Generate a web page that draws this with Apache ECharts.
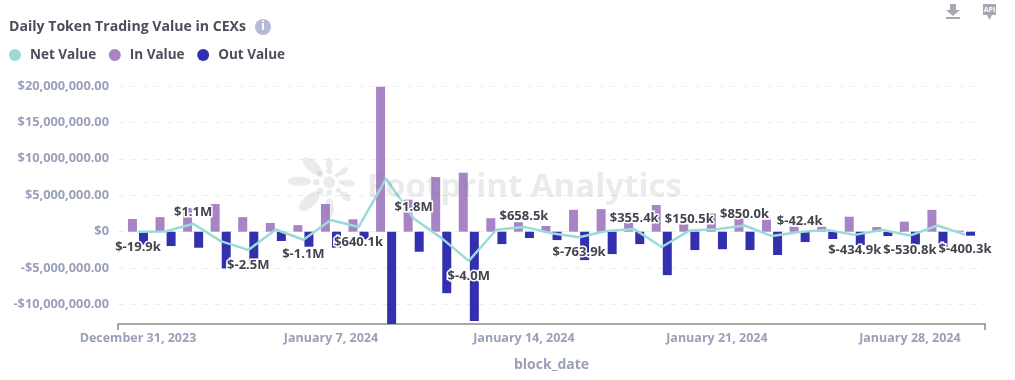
<!DOCTYPE html>
<html>
<head>
<meta charset="utf-8">
<style>
  html, body { margin: 0; padding: 0; background: #fff; }
  #chart { width: 1015px; height: 380px; }
</style>
<script src="https://cdn.jsdelivr.net/npm/echarts@6/dist/echarts.min.js"></script>
</head>
<body>
<div id="chart"></div>
<script>
  var dates = ['2023-12-31', '2024-01-01', '2024-01-02', '2024-01-03', '2024-01-04', '2024-01-05', '2024-01-06',
    '2024-01-07', '2024-01-08', '2024-01-09', '2024-01-10', '2024-01-11', '2024-01-12', '2024-01-13',
    '2024-01-14', '2024-01-15', '2024-01-16', '2024-01-17', '2024-01-18', '2024-01-19', '2024-01-20',
    '2024-01-21', '2024-01-22', '2024-01-23', '2024-01-24', '2024-01-25', '2024-01-26', '2024-01-27',
    '2024-01-28', '2024-01-29', '2024-01-30']
  var netValue = [-19900, 30000, 1100000, -1300000, -2500000, 300000, -1100000,
    1600000, 640100, 7300000, 1800000, -850000, -4000000, 270000,
    658500, -200000, -763900, 100000, 355400, -2100000, 150500,
    350000, 850000, -600000, -42400, 250000, -434900, 250000,
    -530800, 850000, -400300]
  var inValue = [1740000, 2000000, 3250000, 3800000, 2000000, 1200000, 900000,
    3800000, 1700000, 19900000, 4400000, 7500000, 8100000, 1850000,
    1300000, 780000, 3000000, 3100000, 1200000, 3670000, 1000000,
    2500000, 1790000, 1650000, 690000, 690000, 2060000, 640000,
    1370000, 3000000, 150000]
  var outValue = [-1760000, -1970000, -2200000, -5050000, -4500000, -1280000, -2060000,
    -2200000, -1060000, -12700000, -2750000, -8440000, -12250000, -1700000,
    -870000, -1150000, -3900000, -3070000, -1700000, -5960000, -2520000,
    -2400000, -2520000, -3200000, -1420000, -1000000, -1830000, -600000,
    -1740000, -2060000, -550000]
  var yTicks = [-10000000, -5000000, 0, 5000000, 10000000, 15000000, 20000000]
  var xTicks = ['2023-12-31', '2024-01-07', '2024-01-14', '2024-01-21', '2024-01-28']
  var monthNames = ['January', 'February', 'March', 'April', 'May', 'June', 'July', 'August', 'September', 'October', 'November', 'December']

  // the x axis runs on day numbers so the end ticks can sit in the padding past the first and last day
  var xMin = -0.725
  var xMax = dates.length - 1 + 0.725

  function compact (v) {
    var a = Math.abs(v)
    var s = v < 0 ? '-' : ''
    if (a >= 1000000) return '$' + s + (a / 1000000).toFixed(1) + 'M'
    return '$' + s + (a / 1000).toFixed(1) + 'k'
  }
  function money (v) {
    var a = Math.abs(v).toLocaleString('en-US', {minimumFractionDigits: 2, maximumFractionDigits: 2})
    if (v === 0) return '$0'
    return (v < 0 ? '-$' : '$') + a
  }
  function longDate (s) {
    var d = new Date(s)
    return monthNames[d.getUTCMonth()] + ' ' + d.getUTCDate() + ', ' + d.getUTCFullYear()
  }
  function pairs (arr) {
    return arr.map(function (v, i) { return [i, v] })
  }

  // every second point carries a label, mostly above for gains and below for losses
  var netData = netValue.map(function (v, i) {
    var below = v < 0
    if (i === 8) below = true
    if (i === 24) below = false
    return {
      value: [i, v],
      label: {show: i % 2 === 0, position: below ? 'bottom' : 'top', distance: below ? 8 : 4}
    }
  })

  var FONT = '"Open Sans", sans-serif'
  var WATERMARK = 'rgba(120,130,140,0.16)'
  var LOGO_X = 329.3
  var LOGO_Y = 182.3

  // footprint logo: [dx, dy, half length, half width], the petals all point away from the middle
  var logoPetals = [[-30, -1, 11.7, 4.5], [-17, -16, 12, 5.5], [0, -19, 5.5, 3.5], [14, -11, 5.5, 3],
    [19, 1, 6, 3.5], [16, 14, 6.5, 3.5], [0, 26, 10, 4.5], [-20, 19, 13, 6]]
  var logoDots = [[-13, 0, 3.2], [-9, 9, 3.5], [0, -11, 3], [-9, -8, 3],
    [8, -7, 2.5], [12, 0, 2.5], [9, 8, 2.5], [0, 10, 3]]

  var logo = logoPetals.map(function (p) {
    return {
      type: 'ellipse',
      x: LOGO_X + p[0],
      y: LOGO_Y + p[1],
      rotation: -Math.atan2(p[1], p[0]),
      shape: {cx: 0, cy: 0, rx: p[2], ry: p[3]},
      style: {fill: WATERMARK},
      z: 20,
      silent: true
    }
  }).concat(logoDots.map(function (p) {
    return {
      type: 'circle',
      x: LOGO_X + p[0],
      y: LOGO_Y + p[1],
      shape: {r: p[2]},
      style: {fill: WATERMARK},
      z: 20,
      silent: true
    }
  }))

  var chart = echarts.init(document.getElementById('chart'), null, {renderer: 'canvas'})
  chart.setOption({
    animation: false,
    textStyle: {fontFamily: FONT},
    title: {
      text: 'Daily Token Trading Value in CEXs',
      left: 9,
      top: 20,
      padding: 0,
      textStyle: {fontSize: 14.1, fontWeight: 700, color: '#4d4d5c', fontFamily: FONT}
    },
    legend: {
      left: 9,
      top: 48,
      padding: 0,
      icon: 'circle',
      itemWidth: 12,
      itemHeight: 12,
      itemGap: 12.6,
      textStyle: {fontSize: 13.5, fontWeight: 700, color: '#4d4d5c', fontFamily: FONT, padding: [0, 0, 0, 4]},
      data: ['Net Value', 'In Value', 'Out Value']
    },
    grid: {left: 118, right: 30, top: 86, bottom: 56, containLabel: false},
    xAxis: {
      type: 'value',
      min: xMin,
      max: xMax,
      name: 'block_date',
      nameLocation: 'middle',
      nameGap: 34,
      nameTextStyle: {fontSize: 14, fontWeight: 700, color: '#9a9fba', fontFamily: FONT},
      axisLine: {onZero: false, lineStyle: {color: '#8c8c8c', width: 1.5}},
      axisTick: {show: true, length: 6, customValues: [xMin, xMax], lineStyle: {color: '#8c8c8c', width: 1.5}},
      axisLabel: {
        customValues: xTicks.map(function (d) { return dates.indexOf(d) }),
        margin: 8,
        fontSize: 12.5,
        fontWeight: 700,
        color: '#9a9fba',
        fontFamily: FONT,
        hideOverlap: false,
        formatter: function (v) { return longDate(dates[v]) }
      },
      splitLine: {show: false}
    },
    yAxis: {
      type: 'value',
      min: -12670000,
      max: 20000000,
      axisLine: {show: false},
      axisTick: {show: false, customValues: yTicks},
      axisLabel: {
        customValues: yTicks,
        margin: 9,
        fontSize: 12.8,
        fontWeight: 700,
        color: '#9a9fba',
        fontFamily: FONT,
        formatter: function (v) { return money(v) }
      },
      splitLine: {show: true, lineStyle: {type: [6, 6], color: '#eeeeee', width: 1}}
    },
    series: [{
      name: 'Net Value',
      type: 'line',
      symbol: 'circle',
      symbolSize: 1,
      showSymbol: true,
      showAllSymbol: true,
      z: 5,
      lineStyle: {width: 2.5, color: '#99dbd9'},
      itemStyle: {color: '#99dbd9'},
      label: {
        fontSize: 13,
        fontWeight: 700,
        color: '#44444f',
        fontFamily: FONT,
        textBorderColor: '#fff',
        textBorderWidth: 3,
        formatter: function (p) { return compact(p.value[1]) }
      },
      labelLayout: {hideOverlap: false},
      data: netData
    }, {
      name: 'In Value',
      type: 'bar',
      barWidth: 9,
      barGap: '23%',
      itemStyle: {color: '#a984c4'},
      data: pairs(inValue)
    }, {
      name: 'Out Value',
      type: 'bar',
      barWidth: 9,
      barGap: '23%',
      itemStyle: {color: '#3330b0'},
      data: pairs(outValue)
    }],
    graphic: logo.concat([{
      type: 'circle',
      x: LOGO_X,
      y: LOGO_Y,
      shape: {r: 6},
      style: {fill: WATERMARK},
      z: 20,
      silent: true
    }, {
      type: 'text',
      x: 367,
      y: 188,
      z: 20,
      silent: true,
      style: {
        text: 'Footprint Analytics',
        fill: WATERMARK,
        fontSize: 33,
        fontWeight: 700,
        fontFamily: FONT,
        verticalAlign: 'middle'
      }
    }, {
      type: 'circle',
      x: 263,
      y: 27,
      shape: {r: 8},
      style: {fill: '#b7bad6'},
      silent: true
    }, {
      type: 'text',
      x: 263,
      y: 27,
      silent: true,
      style: {text: 'i', fill: '#fff', fontSize: 12, fontWeight: 700, fontFamily: FONT, align: 'center', verticalAlign: 'middle'}
    }, {
      type: 'polygon',
      silent: true,
      shape: {points: [[950, 4], [956, 4], [956, 10], [960, 10], [953, 16], [946, 10], [950, 10]]},
      style: {fill: '#a8a8b0'}
    }, {
      type: 'rect',
      silent: true,
      shape: {x: 946, y: 17, width: 14, height: 2},
      style: {fill: '#a8a8b0'}
    }, {
      type: 'polygon',
      silent: true,
      shape: {points: [[983, 4], [996, 4], [996, 15], [992, 15], [989.5, 20], [987, 15], [983, 15]]},
      style: {fill: '#a8a8b0'}
    }, {
      type: 'text',
      x: 989.5,
      y: 9.5,
      silent: true,
      style: {text: 'API', fill: '#fff', fontSize: 7, fontWeight: 700, fontFamily: FONT, align: 'center', verticalAlign: 'middle'}
    }])
  })
</script>
</body>
</html>
